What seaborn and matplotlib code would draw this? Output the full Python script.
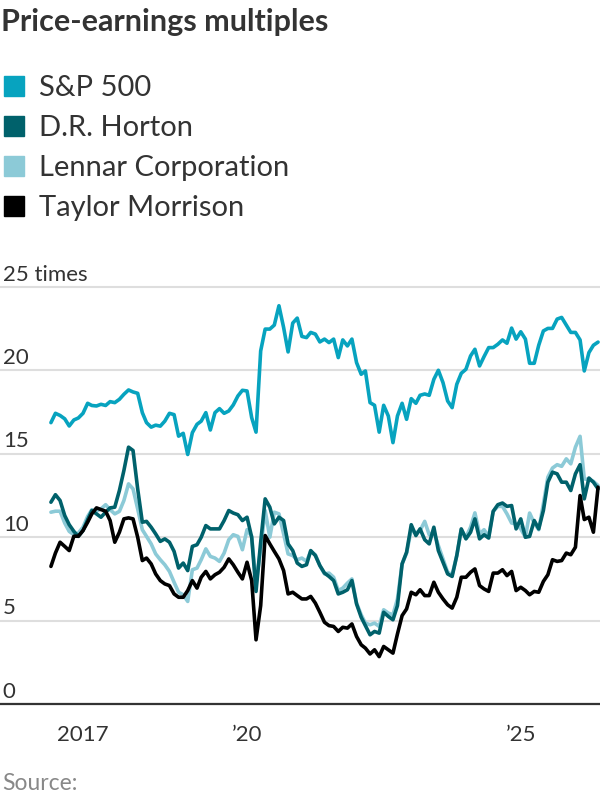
import numpy as np
import pandas as pd
import matplotlib
matplotlib.use('Agg')
import matplotlib.pyplot as plt
from matplotlib.lines import Line2D
from matplotlib.transforms import ScaledTranslation
import seaborn as sns

# monthly price-earnings multiples
months = pd.date_range('2016-06-01', periods=121, freq='MS')

sp500 = [16.87, 17.43, 17.3, 17.1, 16.67, 17.03, 17.15, 17.43, 18.03, 17.9,
         17.87, 17.97, 17.9, 18.13, 18.07, 18.27, 18.57, 18.83, 18.71, 18.63,
         17.47, 16.87, 16.6, 16.72, 16.66, 16.96, 17.43, 17.35, 16.06, 16.23,
         14.96, 16.27, 16.77, 16.96, 17.47, 16.43, 17.47, 17.71, 17.43, 17.57,
         17.93, 18.47, 18.81, 18.77, 17.17, 16.3, 21.17, 22.48, 22.48, 22.72,
         23.88, 22.58, 21.11, 22.84, 23.14, 22.04, 21.97, 22.28, 22.18, 21.71,
         21.88, 21.67, 21.88, 20.77, 21.83, 21.47, 21.88, 20.47, 19.77, 19.97,
         18.07, 17.91, 16.3, 17.91, 17.27, 15.67, 17.27, 18.03, 17.07, 18.31,
         18.03, 18.51, 18.59, 18.51, 19.47, 20.01, 19.27, 18.17, 17.77, 19.17,
         19.83, 20.07, 20.87, 21.27, 20.27, 20.83, 21.37, 21.37, 21.57, 21.83,
         21.63, 22.54, 21.88, 22.32, 21.88, 20.43, 20.43, 21.51, 22.37, 22.52,
         22.52, 23.08, 23.18, 22.72, 22.28, 22.28, 21.83, 19.97, 21.07, 21.51,
         21.7]

dr_horton = [12.1, 12.55, 12.2, 11.3, 10.75, 10.35, 10.05, 10.4, 11.05, 11.6,
             11.4, 11.2, 11.5, 11.76, 11.8, 12.8, 14.0, 15.4, 15.2, 12.9,
             10.9, 10.95, 10.6, 10.2, 9.75, 9.9, 9.7, 9.15, 8.15, 8.45,
             8.0, 9.45, 9.55, 10.0, 10.7, 10.5, 10.5, 10.5, 11.0, 11.6,
             11.45, 11.35, 11.0, 11.2, 10.0, 6.75, 9.7, 12.3, 11.8, 10.8,
             11.2, 11.0, 9.6, 9.2, 8.45, 8.25, 8.35, 9.2, 8.9, 8.3,
             7.85, 7.65, 7.4, 6.6, 6.7, 6.85, 7.4, 6.0, 5.2, 4.7,
             4.15, 4.35, 4.25, 5.5, 5.25, 5.05, 5.9, 8.4, 9.1, 10.75,
             10.1, 10.5, 9.85, 9.6, 10.6, 9.2, 8.5, 7.8, 7.65, 8.9,
             10.5, 9.9, 10.3, 11.1, 9.9, 10.15, 9.95, 11.55, 11.95, 12.05,
             11.85, 11.9, 10.5, 11.1, 10.0, 10.05, 11.0, 10.5, 11.6, 13.3,
             13.9, 13.8, 13.3, 13.3, 12.8, 13.8, 14.35, 12.3, 13.55, 13.3,
             12.9]

lennar = [11.5, 11.56, 11.56, 10.85, 10.35, 10.15, 10.25, 10.6, 11.25, 11.65,
          11.56, 11.7, 11.95, 11.65, 11.4, 11.55, 12.2, 13.2, 12.9, 11.7,
          10.45, 10.05, 9.6, 9.0, 8.65, 8.35, 7.95, 7.3, 6.7, 6.55,
          6.15, 8.05, 8.15, 8.65, 9.3, 8.85, 8.75, 8.55, 9.05, 9.85,
          10.15, 10.05, 9.25, 10.45, 10.05, 7.2, 9.3, 11.6, 10.0, 11.5,
          11.4, 10.2, 9.0, 8.9, 8.65, 8.75, 8.55, 9.15, 8.95, 8.3,
          7.8, 7.85, 7.6, 6.8, 6.95, 7.25, 7.5, 6.05, 5.35, 4.85,
          4.75, 4.85, 4.65, 5.65, 5.45, 5.35, 6.3, 8.4, 9.05, 10.45,
          10.25, 10.4, 10.95, 10.15, 10.3, 9.5, 8.7, 7.9, 7.75, 8.9,
          10.45, 10.0, 10.6, 11.46, 10.2, 10.45, 10.05, 11.55, 11.85, 11.85,
          11.4, 10.85, 10.8, 10.5, 10.0, 11.45, 10.85, 10.45, 12.0, 13.6,
          14.15, 14.35, 14.25, 14.7, 14.4, 15.4, 16.05, 13.5, 13.45, 13.35,
          13.1]

taylor_morrison = [8.25, 9.05, 9.7, 9.45, 9.2, 10.06, 10.06, 10.4, 10.9, 11.4,
                   11.76, 11.66, 11.56, 11.0, 9.7, 10.3, 11.1, 11.16, 11.1, 10.0,
                   8.6, 8.75, 8.4, 7.8, 7.4, 7.2, 7.1, 6.6, 6.4, 6.4,
                   6.8, 7.4, 6.95, 7.6, 7.95, 7.5, 7.75, 7.9, 8.2, 8.7,
                   8.35, 7.9, 7.5, 8.5, 7.4, 3.85, 5.9, 10.1, 9.6, 9.15,
                   8.7, 8.0, 6.6, 6.7, 6.5, 6.3, 6.3, 6.45, 6.05, 5.5,
                   4.9, 4.7, 4.65, 4.35, 4.6, 4.55, 4.8, 4.05, 3.55, 3.35,
                   3.0, 3.25, 2.84, 3.45, 3.25, 3.05, 4.2, 5.3, 5.7, 6.7,
                   6.55, 6.85, 6.5, 6.5, 7.3, 6.7, 6.3, 5.95, 5.75, 6.4,
                   7.6, 7.6, 7.9, 8.1, 7.1, 6.9, 6.75, 7.85, 7.85, 8.05,
                   7.7, 7.95, 6.8, 7.0, 6.8, 6.55, 6.75, 6.7, 7.35, 7.75,
                   8.65, 8.55, 8.6, 9.05, 8.95, 9.4, 12.5, 11.06, 11.2, 10.3,
                   13.0]

series_names = ['S&P 500', 'D.R. Horton', 'Lennar Corporation', 'Taylor Morrison']
series_colors = ['#07a3bf', '#00616b', '#8ccad7', '#000000']
draw_order = ['Lennar Corporation', 'D.R. Horton', 'Taylor Morrison', 'S&P 500']

y_ticks = [0, 5, 10, 15, 20, 25]
y_tick_labels = ['0', '5', '10', '15', '20', '25 times']
x_tick_years = list(range(2017, 2027))
x_tick_names = {2017: '2017', 2020: '\u201920', 2025: '\u201925'}

df = pd.DataFrame({
    'date': np.tile(months, 4),
    'pe': sp500 + dr_horton + lennar + taylor_morrison,
    'series': np.repeat(series_names, len(months)),
})

sns.set_style('white')
plt.rcParams['font.family'] = ['Lato', 'DejaVu Sans']
text_col = '#333333'

fig = plt.figure(figsize=(6, 8), dpi=100)
ax = fig.add_axes([0, 0.12, 1, 0.5316])

palette = dict(zip(series_names, series_colors))
sns.lineplot(data=df, x='date', y='pe', hue='series', hue_order=draw_order,
             palette=palette, lw=2.6, estimator=None, legend=False, ax=ax)

ax.set_ylim(0, 25.5)
ax.set_xlim(pd.Timestamp('2015-06-27'), pd.Timestamp('2026-06-14'))
ax.set_xlabel('')
ax.set_ylabel('')

# y labels sit inside the plot, a little above their gridlines
ax.set_yticks(y_ticks, y_tick_labels)
ax.tick_params(axis='y', length=0, pad=-2, labelsize=16, labelcolor=text_col)
lift = ScaledTranslation(0, 2.5 / 100, fig.dpi_scale_trans)
for lbl in ax.get_yticklabels():
    lbl.set_ha('left')
    lbl.set_va('bottom')
    lbl.set_transform(lbl.get_transform() + lift)

xt = [pd.Timestamp(f'{y}-01-01') for y in x_tick_years]
ax.set_xticks(xt, [x_tick_names.get(y, '') for y in x_tick_years])
ax.tick_params(axis='x', length=5, width=1.5, color=text_col, pad=10,
               labelsize=16, labelcolor=text_col)

ax.grid(axis='y', color='#dedede', lw=1.5)
ax.grid(axis='x', visible=False)
ax.set_axisbelow(True)
for s in ['left', 'right', 'top']:
    ax.spines[s].set_visible(False)
ax.spines['bottom'].set_color(text_col)
ax.spines['bottom'].set_linewidth(1.6)

handles = [Line2D([], [], marker='s', ls='', color=c, markersize=14) for c in series_colors]
fig.legend(handles, series_names, loc='upper left', bbox_to_anchor=(0, 1 - 75 / 800),
           frameon=False, fontsize=21, handlelength=0.96, handletextpad=0.38,
           labelspacing=0.48, borderaxespad=0, borderpad=0, labelcolor=text_col)

fig.text(1 / 600, 1 - 22 / 800, 'Price-earnings multiples', fontsize=22,
         fontweight='bold', color=text_col, ha='left', va='center')
fig.text(2 / 600, 1 - 783 / 800, 'Source:', fontsize=16.5, color='#888888',
         ha='left', va='center')

fig.savefig('out.png', dpi=100)
